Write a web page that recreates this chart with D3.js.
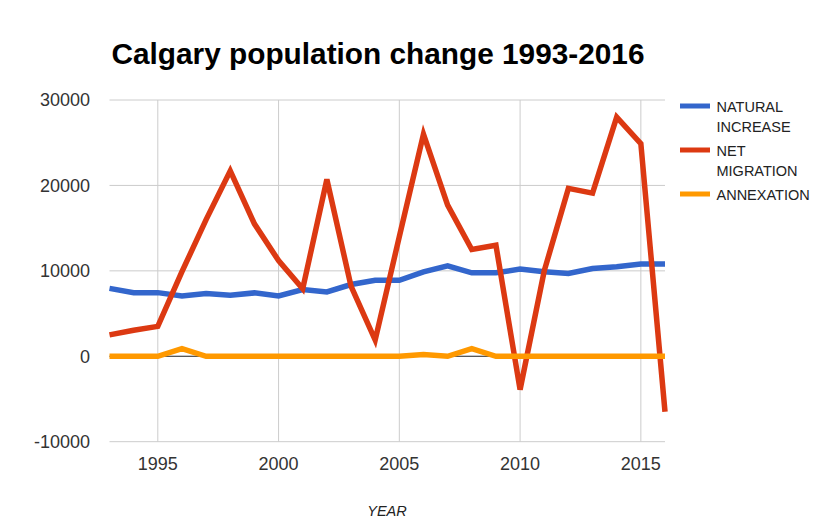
<!DOCTYPE html>
<html>
<head>
<meta charset="utf-8">
<script src="https://cdn.jsdelivr.net/npm/d3@7"></script>
<style>
  body { margin: 0; background: #fff; }
  svg { display: block; font-family: "Liberation Sans", Arial, sans-serif; }
</style>
</head>
<body>
<svg id="chart"></svg>
<script>
// data
const years = [1993, 1994, 1995, 1996, 1997, 1998, 1999, 2000, 2001, 2002, 2003, 2004,
               2005, 2006, 2007, 2008, 2009, 2010, 2011, 2012, 2013, 2014, 2015, 2016];
const naturalIncrease = [7950, 7450, 7450, 7050, 7350, 7150, 7420, 7070, 7820, 7540, 8400, 8900,
                         8900, 9890, 10590, 9770, 9770, 10200, 9890, 9690, 10280, 10470, 10790, 10790];
const netMigration = [2500, 3050, 3500, 9900, 16000, 21700, 15500, 11200, 7900, 20700, 8200, 1900,
                      14000, 26000, 17700, 12500, 13000, -3900, 10000, 19650, 19100, 28000, 24900, -6500];
const annexation = [0, 0, 0, 900, 0, 0, 0, 0, 0, 0, 0, 0,
                    0, 200, 0, 900, 0, 0, 0, 0, 0, 0, 0, 0];
const seriesNames = ["NATURAL INCREASE", "NET MIGRATION", "ANNEXATION"];
const legendLines = [["NATURAL", "INCREASE"], ["NET", "MIGRATION"], ["ANNEXATION"]];
const xTicks = [1995, 2000, 2005, 2010, 2015];
const yTicks = [-10000, 0, 10000, 20000, 30000];
const colors = ["#3366cc", "#dc3912", "#ff9900"];

const width = 836, height = 526;
const plotLeft = 109.5, plotRight = 665, plotTop = 100, plotBottom = 441.7;

const svg = d3.select("#chart").attr("width", width).attr("height", height);

const x = d3.scaleLinear().domain([1993, 2016]).range([plotLeft, plotRight]);
const y = d3.scaleLinear().domain([-10000, 30000]).range([plotBottom, plotTop]);

// title
svg.append("text")
    .attr("x", 111.5).attr("y", 63.5)
    .attr("font-size", 29).attr("font-weight", "bold")
    .attr("textLength", 533).attr("lengthAdjust", "spacingAndGlyphs")
    .attr("fill", "#000")
    .text("Calgary population change 1993-2016");

// gridlines
svg.append("g").selectAll("line")
    .data(yTicks)
    .join("line")
      .attr("x1", plotLeft).attr("x2", plotRight)
      .attr("y1", d => y(d)).attr("y2", d => y(d))
      .attr("stroke", "#cccccc").attr("stroke-width", 1);

svg.append("g").selectAll("line")
    .data(xTicks)
    .join("line")
      .attr("x1", d => x(d)).attr("x2", d => x(d))
      .attr("y1", plotTop).attr("y2", plotBottom)
      .attr("stroke", "#cccccc").attr("stroke-width", 1);

// zero baseline
svg.append("line")
    .attr("x1", plotLeft).attr("x2", plotRight)
    .attr("y1", y(0)).attr("y2", y(0))
    .attr("stroke", "#333").attr("stroke-width", 1);

// axis labels
svg.append("g").selectAll("text")
    .data(yTicks)
    .join("text")
      .attr("x", 90).attr("y", d => y(d))
      .attr("dy", "0.36em")
      .attr("text-anchor", "end")
      .attr("font-size", 18).attr("fill", "#333")
      .text(d => d);

svg.append("g").selectAll("text")
    .data(xTicks)
    .join("text")
      .attr("x", d => x(d)).attr("y", 470)
      .attr("text-anchor", "middle")
      .attr("font-size", 18).attr("fill", "#333")
      .text(d => d);

svg.append("text")
    .attr("x", 387).attr("y", 516)
    .attr("text-anchor", "middle")
    .attr("font-size", 14.5).attr("font-style", "italic").attr("fill", "#222")
    .text("YEAR");

// lines
const series = [naturalIncrease, netMigration, annexation];
const line = d3.line()
    .x((d, i) => x(years[i]))
    .y(d => y(d));

svg.append("g").selectAll("path")
    .data(series)
    .join("path")
      .attr("d", line)
      .attr("fill", "none")
      .attr("stroke", (d, i) => colors[i])
      .attr("stroke-width", 5.5);

// legend
const legend = svg.append("g").selectAll("g")
    .data(seriesNames)
    .join("g")
      .attr("transform", (d, i) => "translate(680," + [106, 150, 194][i] + ")");

legend.append("line")
    .attr("x1", 0).attr("x2", 30)
    .attr("stroke", (d, i) => colors[i])
    .attr("stroke-width", 5);

legend.append("text")
    .attr("font-size", 14.5).attr("fill", "#222")
    .selectAll("tspan")
    .data((d, i) => legendLines[i])
    .join("tspan")
      .attr("x", 36.5)
      .attr("y", (d, j) => 6 + j * 19.5)
      .text(d => d);
</script>
</body>
</html>
